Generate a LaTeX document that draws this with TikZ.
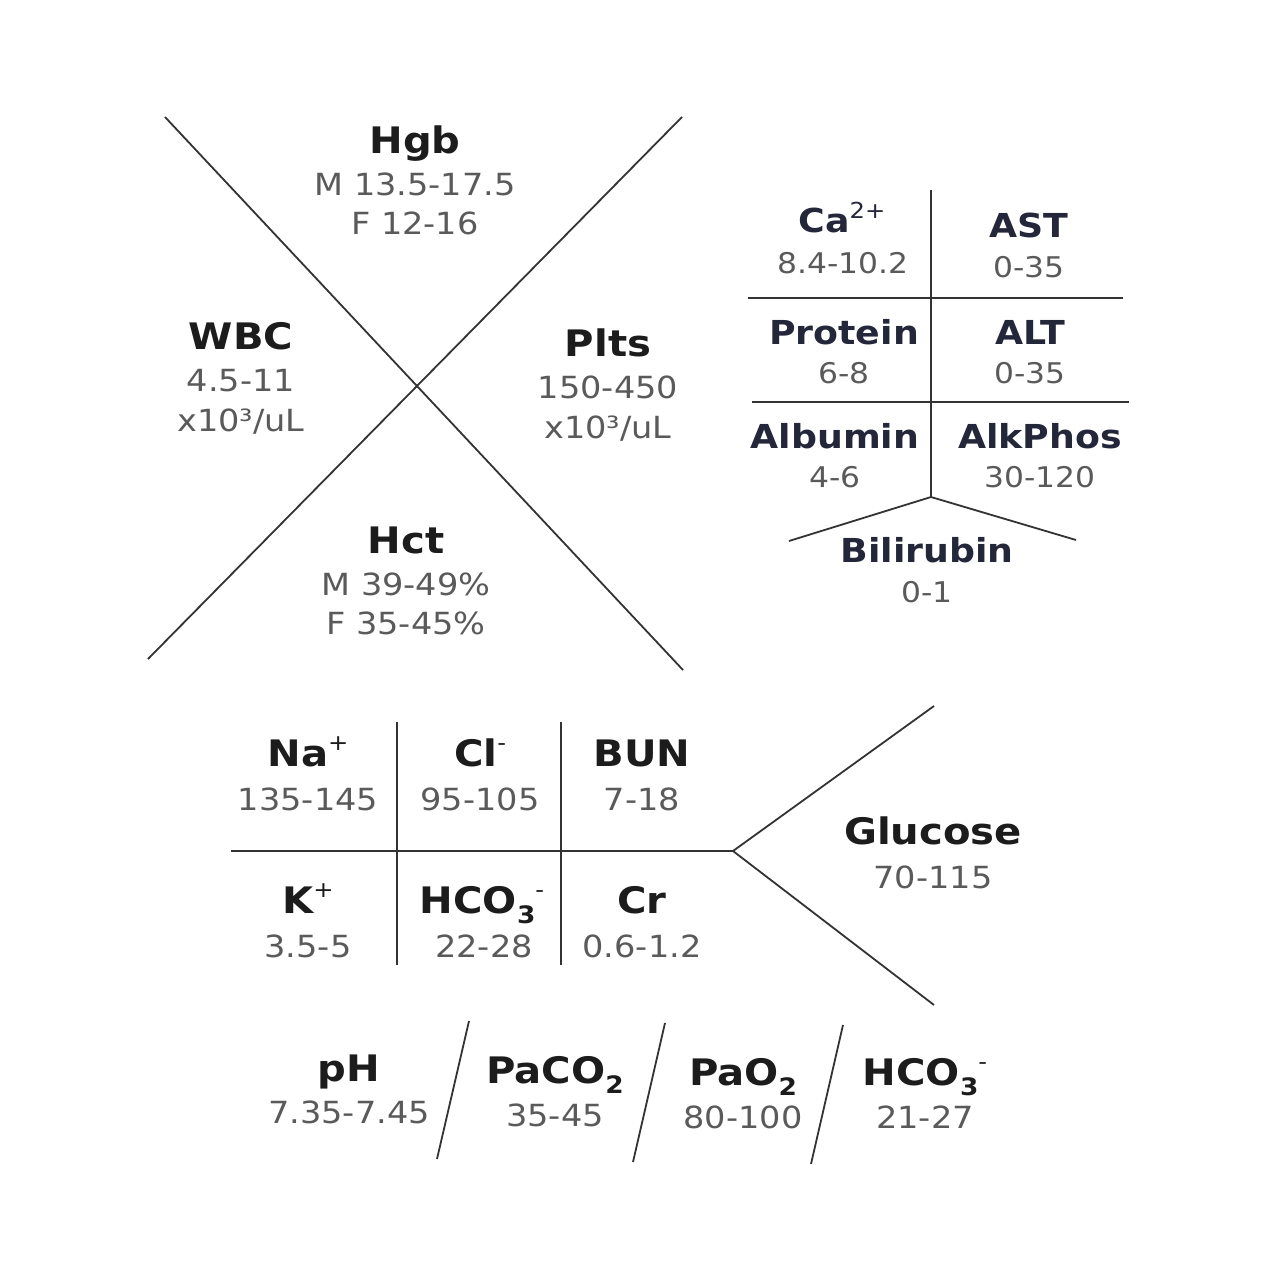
\documentclass[tikz,border=0pt]{standalone}
\usepackage{fontspec}
\setmainfont{DejaVu Sans}[FakeStretch=1.1]
\definecolor{lab}{HTML}{1C1C1C}
\definecolor{labl}{HTML}{24263A}
\definecolor{val}{HTML}{5A5A5A}
\newcommand\upr[1]{\raisebox{0.42em}{\fontsize{22}{22}\selectfont\mdseries #1}}
\newcommand\dnr[1]{\raisebox{-0.28em}{\fontsize{24}{24}\selectfont #1}}
\tikzset{
 lbl/.style={inner sep=0pt, text height=26.6pt, text depth=0pt, text=lab, font=\fontsize{36.5}{40}\selectfont\bfseries},
 lbls/.style={lbl, text height=24pt, text=labl, font=\fontsize{33}{36}\selectfont\bfseries},
 vl/.style={inner sep=0pt, text height=22.2pt, text depth=0pt, text=val, font=\fontsize{30.5}{34}\selectfont},
 vls/.style={vl, text height=20.8pt, font=\fontsize{28.5}{32}\selectfont},
 ln/.style={draw=black!80, line width=1.8pt}
}
\begin{document}
\begin{tikzpicture}[x=1pt,y=-1pt]
\useasboundingbox[fill=white] (0,0) rectangle (1280,1280);
% ---------- CBC cross ----------
\coordinate (x1a) at (165,117); \coordinate (x1b) at (683,670);
\coordinate (x2a) at (682,117); \coordinate (x2b) at (148,659);
\draw[ln] (x1a) -- (x1b);
\draw[ln] (x2a) -- (x2b);
\node[lbl] (hgb) at (415,140) {Hgb};
\node[vl] (hgbm) at (415,184) {M 13.5-17.5};
\node[vl] (hgbf) at (415,223) {F 12-16};
\node[lbl] (wbc) at (241,336) {WBC};
\node[vl] (wbcv) at (241,380) {4.5-11};
\node[vl] (wbcu) at (241,420) {x10³/uL};
\node[lbl] (plt) at (608,343) {Plts};
\node[vl] (pltv) at (608,387) {150-450};
\node[vl] (pltu) at (608,427) {x10³/uL};
\node[lbl] (hct) at (406,540) {Hct};
\node[vl] (hctm) at (406,584) {M 39-49\%};
\node[vl] (hctf) at (406,623) {F 35-45\%};
% ---------- Liver / Ca ----------
\coordinate (lv1) at (931,190); \coordinate (lv2) at (931,497);
\coordinate (lh1a) at (748,298); \coordinate (lh1b) at (1123,298);
\coordinate (lh2a) at (752,402); \coordinate (lh2b) at (1129,402);
\coordinate (bw1) at (789,541); \coordinate (bw2) at (1076,540);
\draw[ln] (lv1) -- (lv2);
\draw[ln] (lh1a) -- (lh1b);
\draw[ln] (lh2a) -- (lh2b);
\draw[ln] (bw1) -- (lv2) -- (bw2);
\node[lbls] (ca) at (842,220) {Ca\upr{2+}};
\node[vls] (cav) at (843,263) {8.4-10.2};
\node[lbls] (ast) at (1029,225) {AST};
\node[vls] (astv) at (1029,267) {0-35};
\node[lbls] (prot) at (844,332) {Protein};
\node[vls] (protv) at (844,373) {6-8};
\node[lbls] (alt) at (1030,332) {ALT};
\node[vls] (altv) at (1030,373) {0-35};
\node[lbls] (alb) at (835,436) {Albumin};
\node[vls] (albv) at (835,477) {4-6};
\node[lbls] (alk) at (1040,436) {AlkPhos};
\node[vls] (alkv) at (1040,477) {30-120};
\node[lbls] (bili) at (927,550) {Bilirubin};
\node[vls] (biliv) at (927,592) {0-1};
% ---------- BMP ----------
\coordinate (bh1) at (231,851); \coordinate (bh2) at (733,851);
\coordinate (bv1a) at (397,722); \coordinate (bv1b) at (397,965);
\coordinate (bv2a) at (561,722); \coordinate (bv2b) at (561,965);
\coordinate (gw1) at (934,706); \coordinate (gw2) at (934,1005);
\draw[ln] (bh1) -- (bh2);
\draw[ln] (bv1a) -- (bv1b);
\draw[ln] (bv2a) -- (bv2b);
\draw[ln] (gw1) -- (bh2) -- (gw2);
\node[lbl] (na) at (308,753) {Na\upr{+}};
\node[vl] (nav) at (308,799) {135-145};
\node[lbl] (cl) at (480,753) {Cl\upr{-}};
\node[vl] (clv) at (480,799) {95-105};
\node[lbl] (bun) at (642,753) {BUN};
\node[vl] (bunv) at (642,799) {7-18};
\node[lbl] (k) at (308,900) {K\upr{+}};
\node[vl] (kv) at (308,946) {3.5-5};
\node[lbl] (hco) at (482,900) {HCO\dnr{3}\upr{-}};
\node[vl] (hcov) at (484,946) {22-28};
\node[lbl] (cr) at (642,900) {Cr};
\node[vl] (crv) at (642,946) {0.6-1.2};
\node[lbl] (glu) at (933,831) {Glucose};
\node[vl] (gluv) at (933,877) {70-115};
% ---------- ABG ----------
\coordinate (s1a) at (469,1021); \coordinate (s1b) at (437,1159);
\coordinate (s2a) at (665,1023); \coordinate (s2b) at (633,1162);
\coordinate (s3a) at (843,1025); \coordinate (s3b) at (811,1164);
\draw[ln] (s1a) -- (s1b);
\draw[ln] (s2a) -- (s2b);
\draw[ln] (s3a) -- (s3b);
\node[lbl] (ph) at (349,1068) {pH};
\node[vl] (phv) at (349,1112) {7.35-7.45};
\node[lbl] (paco) at (555,1070) {PaCO\dnr{2}};
\node[vl] (pacov) at (555,1115) {35-45};
\node[lbl] (pao) at (743,1072) {PaO\dnr{2}};
\node[vl] (paov) at (743,1117) {80-100};
\node[lbl] (hcoa) at (925,1072) {HCO\dnr{3}\upr{-}};
\node[vl] (hcoav) at (925,1117) {21-27};
\end{tikzpicture}
\end{document}
